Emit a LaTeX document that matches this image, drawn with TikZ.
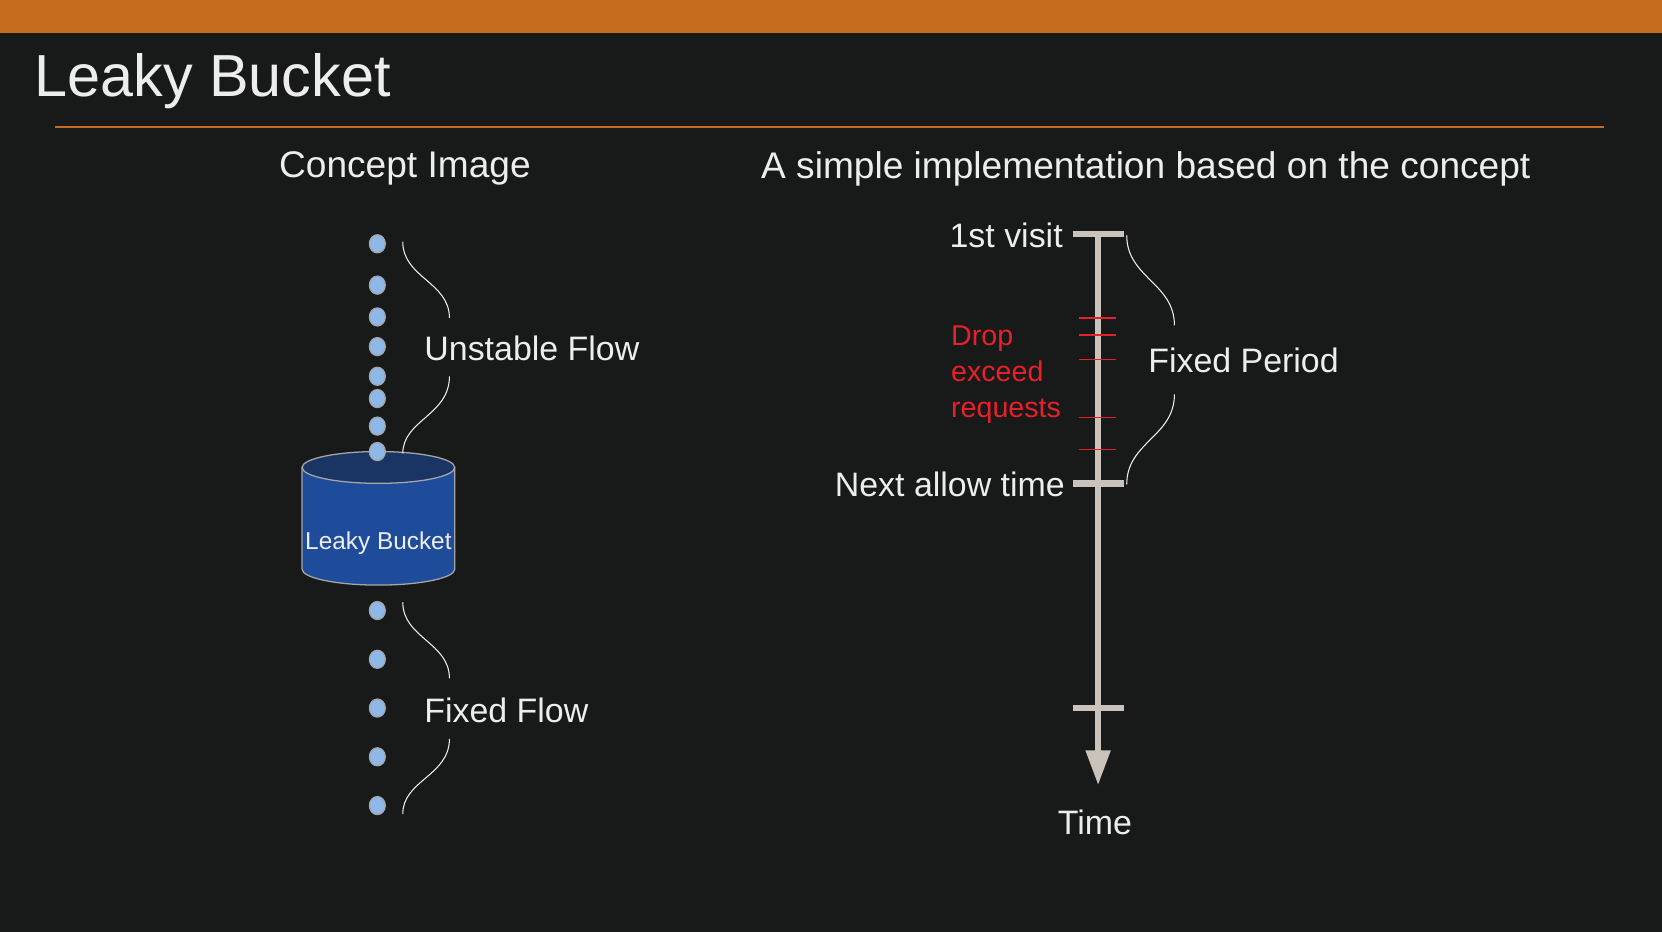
\documentclass[tikz,border=0pt]{standalone}
\usepackage{fontspec}
\setmainfont{Liberation Sans}
\usetikzlibrary{shapes.geometric}
\definecolor{bg}{HTML}{181919}
\definecolor{org}{HTML}{C56C1F}
\definecolor{txt}{HTML}{EDEDED}
\definecolor{dotc}{HTML}{8DB8E8}
\definecolor{tl}{HTML}{C9C3BC}
\definecolor{rd}{HTML}{E8202A}
\definecolor{cylb}{HTML}{1F4C9A}
\definecolor{cylt}{HTML}{1A3463}
\begin{document}
\begin{tikzpicture}[x=0.5pt,y=-0.5pt,
  dot/.style={ellipse,draw=gray!70,line width=0.6pt,fill=dotc,minimum width=7.5pt,minimum height=8.5pt,inner sep=0pt},
  lbl/.style={text=txt,font=\fontsize{16}{19}\selectfont,inner sep=0pt},
  br/.style={draw=txt,line width=0.5pt},
  tk/.style={draw=tl,line width=3pt},
  rt/.style={draw=rd,line width=0.6pt}]
\useasboundingbox (0,0) rectangle (1568,879);
\fill[bg] (0,0) rectangle (1568,879);
\fill[org] (0,0) rectangle (1568,31);
\draw[org,line width=1pt] (52,120) -- (1513,120);
\node[text=txt,anchor=west,inner sep=0pt,font=\fontsize{28}{32}\selectfont] (title) at (32,77) {Leaky Bucket};
\node[lbl,font=\fontsize{17.5}{20}\selectfont] (h1) at (382,159) {Concept Image};
\node[lbl,font=\fontsize{17.5}{20}\selectfont] (h2) at (1081,159) {A simple implementation based on the concept};
% cylinder
\fill[cylb,draw=gray!70,line width=0.6pt] (285,441) -- (285,537) arc[start angle=180,end angle=360,x radius=72,y radius=-15] -- (429,441) -- cycle;
\filldraw[fill=cylt,draw=gray!70,line width=0.6pt] (357,441) ellipse[x radius=72,y radius=15];
\node[text=txt,font=\fontsize{11.5}{14}\selectfont,inner sep=0pt] (bk) at (357,512) {Leaky Bucket};
% dots
\foreach \y [count=\i] in {230,269,299,327,355,376,402,426} \node[dot] (u\i) at (356,\y) {};
\foreach \y [count=\i] in {576,622,668,714,760} \node[dot] (f\i) at (356,\y) {};
% braces
\draw[br] (380,228) .. controls (380,262) and (424,266) .. (424,300);
\draw[br] (424,355) .. controls (424,392) and (380,396) .. (380,428);
\draw[br] (380,568) .. controls (380,602) and (424,606) .. (424,640);
\draw[br] (424,697) .. controls (424,732) and (380,736) .. (380,768);
\draw[br] (1063,222) .. controls (1063,262) and (1108,267) .. (1108,307);
\draw[br] (1108,372) .. controls (1108,412) and (1063,417) .. (1063,457);
\node[lbl,anchor=west] (uf) at (400,329) {Unstable Flow};
\node[lbl,anchor=west] (ff) at (400,670) {Fixed Flow};
% timeline
\coordinate (t0) at (1036,221);
\coordinate (t1) at (1036,712);
\draw[tl,line width=2.5pt] (t0) -- (t1);
\fill[tl] (1024,708) -- (1048,708) -- (1036,740) -- cycle;
\foreach \y in {221,456,668} \draw[tk] (1012,\y) -- (1060,\y);
\foreach \y in {300,316,339,394,424} \draw[rt] (1018,\y) -- (1053,\y);
\node[lbl,anchor=east] (v1) at (1003,222) {1st visit};
\node[lbl,anchor=east] (na) at (1005,457) {Next allow time};
\node[lbl,anchor=west] (fp) at (1083,340) {Fixed Period};
\node[lbl] (tm) at (1033,776) {Time};
\node[text=rd,anchor=north west,align=left,inner sep=0pt,font=\fontsize{13.5}{17}\selectfont] (dr) at (897,307) {Drop\\exceed\\requests};
\end{tikzpicture}
\end{document}
